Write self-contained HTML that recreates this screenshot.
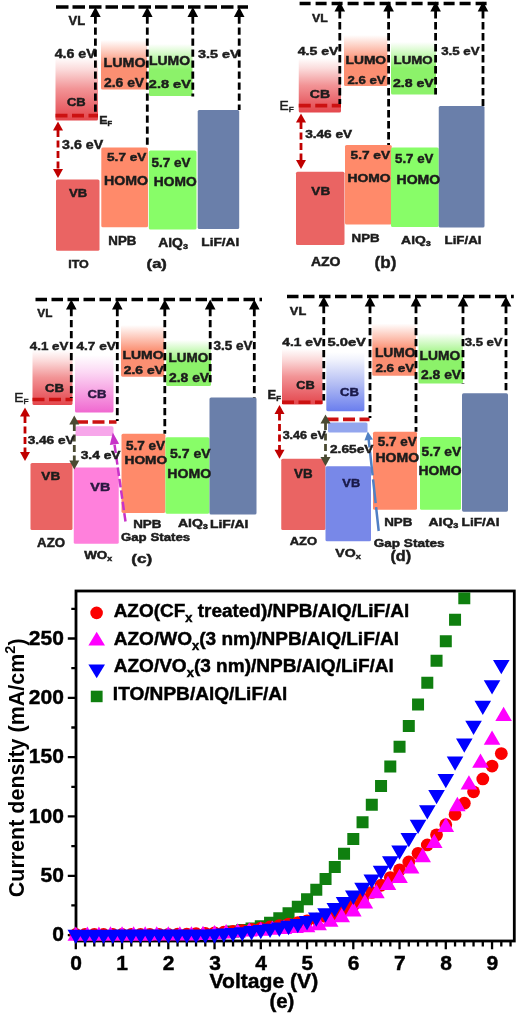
<!DOCTYPE html>
<html><head><meta charset="utf-8"><title>Energy band diagrams and J-V characteristics</title>
<style>
html,body{margin:0;padding:0;background:#fff;}
body{width:520px;height:1015px;overflow:hidden;}
svg{display:block;font-family:"Liberation Sans",Arial,Helvetica,sans-serif;}
</style></head><body>
<svg width="520" height="1015" viewBox="0 0 520 1015">
<rect width="520" height="1015" fill="#fff"/>
<defs></defs>
<linearGradient id="g1" x1="0" y1="0" x2="0" y2="1"><stop offset="0.000" stop-color="#ffffff"/><stop offset="0.200" stop-color="#fbdada"/><stop offset="0.500" stop-color="#f29496"/><stop offset="0.800" stop-color="#e9646a"/><stop offset="1.000" stop-color="#e4474c"/></linearGradient>
<rect x="55.50" y="57.00" width="42.50" height="63.50" fill="url(#g1)" rx="1.6"/>
<rect x="56.00" y="179.50" width="43.50" height="71.30" fill="#ea6463" rx="1.6"/>
<linearGradient id="g2" x1="0" y1="0" x2="0" y2="1"><stop offset="0.000" stop-color="#ffffff"/><stop offset="0.500" stop-color="#fb8f72"/><stop offset="1.000" stop-color="#fb8f72"/></linearGradient>
<rect x="101.00" y="40.00" width="46.00" height="49.50" fill="url(#g2)" rx="1.6"/>
<rect x="101.30" y="147.50" width="46.70" height="79.80" fill="#ff8a6a" rx="1.6"/>
<linearGradient id="g3" x1="0" y1="0" x2="0" y2="1"><stop offset="0.000" stop-color="#ffffff"/><stop offset="0.500" stop-color="#8cf26a"/><stop offset="1.000" stop-color="#8cf26a"/></linearGradient>
<rect x="149.00" y="44.00" width="43.50" height="52.00" fill="url(#g3)" rx="1.6"/>
<rect x="148.80" y="150.50" width="47.70" height="79.10" fill="#88fd68" rx="1.6"/>
<rect x="197.70" y="110.00" width="41.50" height="119.00" fill="#6a7faa" rx="1.6"/>
<line x1="56.00" y1="7.00" x2="248.00" y2="7.00" stroke="#000" stroke-width="3.60" stroke-dasharray="12.50 4.00"/>
<line x1="55.50" y1="115.60" x2="98.00" y2="115.60" stroke="#cc1111" stroke-width="3.60" stroke-dasharray="12.00 4.50"/>
<line x1="95.40" y1="16.50" x2="95.40" y2="113.50" stroke="#000" stroke-width="2.80" stroke-dasharray="7.30 3.70"/>
<polygon points="95.40,7.00 90.10,17.00 100.70,17.00" fill="#000"/>
<line x1="147.30" y1="16.50" x2="147.30" y2="147.50" stroke="#000" stroke-width="2.80" stroke-dasharray="7.30 3.70"/>
<polygon points="147.30,7.00 142.00,17.00 152.60,17.00" fill="#000"/>
<line x1="192.80" y1="16.50" x2="192.80" y2="96.50" stroke="#000" stroke-width="2.80" stroke-dasharray="7.30 3.70"/>
<polygon points="192.80,7.00 187.50,17.00 198.10,17.00" fill="#000"/>
<line x1="239.20" y1="16.50" x2="239.20" y2="110.00" stroke="#000" stroke-width="2.80" stroke-dasharray="7.30 3.70"/>
<polygon points="239.20,7.00 233.90,17.00 244.50,17.00" fill="#000"/>
<line x1="58.00" y1="130.00" x2="58.00" y2="169.50" stroke="#c00000" stroke-width="2.80" stroke-dasharray="7.00 3.50"/>
<polygon points="58.00,121.50 53.00,130.50 63.00,130.50" fill="#c00000"/>
<polygon points="58.00,178.00 53.00,169.00 63.00,169.00" fill="#c00000"/>
<text transform="translate(68.56 25.35) scale(1.003 1)" font-size="12.94" font-weight="bold" fill="#1c1c1c" stroke="#1c1c1c" stroke-width="0.45">VL</text>
<text transform="translate(54.64 58.03) scale(1.154 1)" font-size="12.29" font-weight="bold" fill="#1c1c1c" stroke="#1c1c1c" stroke-width="0.45">4.6 eV</text>
<text transform="translate(66.92 105.65) scale(1.257 1)" font-size="10.31" font-weight="bold" fill="#1c1c1c" stroke="#1c1c1c" stroke-width="0.45">CB</text>
<text transform="translate(99.21 124.38) scale(1.057 1)" font-size="11.81" font-weight="bold" fill="#1c1c1c" stroke="#1c1c1c" stroke-width="0.45">E<tspan font-size="7.09" dy="1.77">F</tspan></text>
<text transform="translate(62.12 148.61) scale(1.171 1)" font-size="12.12" font-weight="bold" fill="#1c1c1c" stroke="#1c1c1c" stroke-width="0.45">3.6 eV</text>
<text transform="translate(68.96 196.55) scale(1.112 1)" font-size="11.77" font-weight="bold" fill="#1c1c1c" stroke="#1c1c1c" stroke-width="0.45">VB</text>
<text transform="translate(68.21 268.44) scale(1.094 1)" font-size="11.44" font-weight="bold" fill="#1c1c1c" stroke="#1c1c1c" stroke-width="0.45">ITO</text>
<text transform="translate(103.49 66.73) scale(1.139 1)" font-size="12.57" font-weight="bold" fill="#1c1c1c" stroke="#1c1c1c" stroke-width="0.45">LUMO</text>
<text transform="translate(103.97 87.22) scale(1.081 1)" font-size="12.85" font-weight="bold" fill="#1c1c1c" stroke="#1c1c1c" stroke-width="0.45">2.6 eV</text>
<text transform="translate(107.03 160.94) scale(1.160 1)" font-size="11.75" font-weight="bold" fill="#1c1c1c" stroke="#1c1c1c" stroke-width="0.45">5.7 eV</text>
<text transform="translate(104.00 184.63) scale(1.166 1)" font-size="12.15" font-weight="bold" fill="#1c1c1c" stroke="#1c1c1c" stroke-width="0.45">HOMO</text>
<text transform="translate(108.36 245.25) scale(1.116 1)" font-size="11.92" font-weight="bold" fill="#1c1c1c" stroke="#1c1c1c" stroke-width="0.45">NPB</text>
<text transform="translate(149.02 64.93) scale(1.150 1)" font-size="12.15" font-weight="bold" fill="#1c1c1c" stroke="#1c1c1c" stroke-width="0.45">LUMO</text>
<text transform="translate(148.85 88.18) scale(1.232 1)" font-size="11.79" font-weight="bold" fill="#1c1c1c" stroke="#1c1c1c" stroke-width="0.45">2.8 eV</text>
<text transform="translate(151.54 166.73) scale(1.118 1)" font-size="12.04" font-weight="bold" fill="#1c1c1c" stroke="#1c1c1c" stroke-width="0.45">5.7 eV</text>
<text transform="translate(153.83 186.43) scale(1.160 1)" font-size="11.86" font-weight="bold" fill="#1c1c1c" stroke="#1c1c1c" stroke-width="0.45">HOMO</text>
<text transform="translate(158.20 246.84) scale(1.148 1)" font-size="12.13" font-weight="bold" fill="#1c1c1c" stroke="#1c1c1c" stroke-width="0.45">AlQ<tspan font-size="7.88" dy="2.43">3</tspan></text>
<text transform="translate(198.12 58.42) scale(1.258 1)" font-size="11.42" font-weight="bold" fill="#1c1c1c" stroke="#1c1c1c" stroke-width="0.45">3.5 eV</text>
<text transform="translate(201.34 246.32) scale(1.212 1)" font-size="11.28" font-weight="bold" fill="#1c1c1c" stroke="#1c1c1c" stroke-width="0.45">LiF/Al</text>
<text transform="translate(146.62 267.86) scale(1.276 1)" font-size="12.98" font-weight="bold" fill="#1c1c1c" stroke="#1c1c1c" stroke-width="0.45">(a)</text>
<linearGradient id="g4" x1="0" y1="0" x2="0" y2="1"><stop offset="0.000" stop-color="#ffffff"/><stop offset="0.200" stop-color="#fbdada"/><stop offset="0.500" stop-color="#f29496"/><stop offset="0.800" stop-color="#e9646a"/><stop offset="1.000" stop-color="#e4474c"/></linearGradient>
<rect x="298.75" y="58.00" width="42.25" height="54.50" fill="url(#g4)" rx="1.6"/>
<rect x="296.00" y="171.75" width="48.50" height="73.25" fill="#ea6463" rx="1.6"/>
<linearGradient id="g5" x1="0" y1="0" x2="0" y2="1"><stop offset="0.000" stop-color="#ffffff"/><stop offset="0.500" stop-color="#fb8f72"/><stop offset="1.000" stop-color="#fb8f72"/></linearGradient>
<rect x="344.00" y="35.00" width="43.50" height="51.00" fill="url(#g5)" rx="1.6"/>
<rect x="345.00" y="145.00" width="46.75" height="79.50" fill="#ff8a6a" rx="1.6"/>
<linearGradient id="g6" x1="0" y1="0" x2="0" y2="1"><stop offset="0.000" stop-color="#ffffff"/><stop offset="0.500" stop-color="#8cf26a"/><stop offset="1.000" stop-color="#8cf26a"/></linearGradient>
<rect x="391.00" y="42.00" width="45.00" height="52.50" fill="url(#g6)" rx="1.6"/>
<rect x="391.00" y="147.50" width="47.75" height="79.50" fill="#88fd68" rx="1.6"/>
<rect x="438.75" y="106.00" width="45.75" height="121.50" fill="#6a7faa" rx="1.6"/>
<line x1="299.60" y1="3.50" x2="489.50" y2="3.50" stroke="#000" stroke-width="3.60" stroke-dasharray="11.00 5.00"/>
<line x1="298.75" y1="105.60" x2="341.00" y2="105.60" stroke="#cc1111" stroke-width="3.60" stroke-dasharray="12.00 4.50"/>
<line x1="339.80" y1="11.10" x2="339.80" y2="104.00" stroke="#000" stroke-width="2.80" stroke-dasharray="7.30 3.70"/>
<polygon points="339.80,1.60 334.50,11.60 345.10,11.60" fill="#000"/>
<line x1="388.60" y1="11.10" x2="388.60" y2="145.00" stroke="#000" stroke-width="2.80" stroke-dasharray="7.30 3.70"/>
<polygon points="388.60,1.60 383.30,11.60 393.90,11.60" fill="#000"/>
<line x1="435.60" y1="11.10" x2="435.60" y2="94.50" stroke="#000" stroke-width="2.80" stroke-dasharray="7.30 3.70"/>
<polygon points="435.60,1.60 430.30,11.60 440.90,11.60" fill="#000"/>
<line x1="483.00" y1="11.10" x2="483.00" y2="106.00" stroke="#000" stroke-width="2.80" stroke-dasharray="7.30 3.70"/>
<polygon points="483.00,1.60 477.70,11.60 488.30,11.60" fill="#000"/>
<line x1="301.00" y1="122.00" x2="301.00" y2="160.50" stroke="#c00000" stroke-width="2.80" stroke-dasharray="7.00 3.50"/>
<polygon points="301.00,113.50 296.00,122.50 306.00,122.50" fill="#c00000"/>
<polygon points="301.00,169.00 296.00,160.00 306.00,160.00" fill="#c00000"/>
<text transform="translate(312.07 22.05) scale(1.132 1)" font-size="10.90" font-weight="bold" fill="#1c1c1c" stroke="#1c1c1c" stroke-width="0.45">VL</text>
<text transform="translate(297.74 55.44) scale(1.291 1)" font-size="10.89" font-weight="bold" fill="#1c1c1c" stroke="#1c1c1c" stroke-width="0.45">4.5 eV</text>
<text transform="translate(309.87 98.19) scale(1.269 1)" font-size="11.09" font-weight="bold" fill="#1c1c1c" stroke="#1c1c1c" stroke-width="0.45">CB</text>
<text transform="translate(279.62 109.73) scale(1.081 1)" font-size="12.77" font-weight="normal" fill="#1c1c1c" stroke="#1c1c1c" stroke-width="0.45">E<tspan font-size="7.66" dy="1.92">F</tspan></text>
<text transform="translate(305.14 138.18) scale(1.232 1)" font-size="11.06" font-weight="bold" fill="#1c1c1c" stroke="#1c1c1c" stroke-width="0.45">3.46 eV</text>
<text transform="translate(311.36 194.55) scale(1.150 1)" font-size="11.77" font-weight="bold" fill="#1c1c1c" stroke="#1c1c1c" stroke-width="0.45">VB</text>
<text transform="translate(310.90 265.93) scale(1.156 1)" font-size="12.15" font-weight="bold" fill="#1c1c1c" stroke="#1c1c1c" stroke-width="0.45">AZO</text>
<text transform="translate(345.53 63.95) scale(1.285 1)" font-size="10.73" font-weight="bold" fill="#1c1c1c" stroke="#1c1c1c" stroke-width="0.45">LUMO</text>
<text transform="translate(347.49 84.44) scale(1.153 1)" font-size="11.44" font-weight="bold" fill="#1c1c1c" stroke="#1c1c1c" stroke-width="0.45">2.6 eV</text>
<text transform="translate(350.53 159.44) scale(1.180 1)" font-size="11.61" font-weight="bold" fill="#1c1c1c" stroke="#1c1c1c" stroke-width="0.45">5.7 eV</text>
<text transform="translate(347.52 181.94) scale(1.250 1)" font-size="11.09" font-weight="bold" fill="#1c1c1c" stroke="#1c1c1c" stroke-width="0.45">HOMO</text>
<text transform="translate(351.56 242.05) scale(1.166 1)" font-size="11.41" font-weight="bold" fill="#1c1c1c" stroke="#1c1c1c" stroke-width="0.45">NPB</text>
<text transform="translate(393.56 63.95) scale(1.236 1)" font-size="10.73" font-weight="bold" fill="#1c1c1c" stroke="#1c1c1c" stroke-width="0.45">LUMO</text>
<text transform="translate(392.96 86.95) scale(1.311 1)" font-size="10.73" font-weight="bold" fill="#1c1c1c" stroke="#1c1c1c" stroke-width="0.45">2.8 eV</text>
<text transform="translate(395.04 163.43) scale(1.076 1)" font-size="12.33" font-weight="bold" fill="#1c1c1c" stroke="#1c1c1c" stroke-width="0.45">5.7 eV</text>
<text transform="translate(396.51 183.93) scale(1.155 1)" font-size="12.15" font-weight="bold" fill="#1c1c1c" stroke="#1c1c1c" stroke-width="0.45">HOMO</text>
<text transform="translate(401.10 244.30) scale(1.284 1)" font-size="10.84" font-weight="bold" fill="#1c1c1c" stroke="#1c1c1c" stroke-width="0.45">AlQ<tspan font-size="7.04" dy="2.17">3</tspan></text>
<text transform="translate(441.14 55.43) scale(1.243 1)" font-size="10.71" font-weight="bold" fill="#1c1c1c" stroke="#1c1c1c" stroke-width="0.45">3.5 eV</text>
<text transform="translate(444.56 244.33) scale(1.222 1)" font-size="10.88" font-weight="bold" fill="#1c1c1c" stroke="#1c1c1c" stroke-width="0.45">LiF/Al</text>
<text transform="translate(374.60 268.05) scale(1.014 1)" font-size="16.84" font-weight="bold" fill="#1c1c1c" stroke="#1c1c1c" stroke-width="0.45">(b)</text>
<linearGradient id="g7" x1="0" y1="0" x2="0" y2="1"><stop offset="0.000" stop-color="#ffffff"/><stop offset="0.200" stop-color="#fbdada"/><stop offset="0.500" stop-color="#f29496"/><stop offset="0.800" stop-color="#e9646a"/><stop offset="1.000" stop-color="#e4474c"/></linearGradient>
<rect x="32.50" y="350.00" width="40.00" height="55.00" fill="url(#g7)" rx="1.6"/>
<rect x="30.50" y="463.00" width="42.00" height="67.00" fill="#ea6463" rx="1.6"/>
<linearGradient id="g8" x1="0" y1="0" x2="0" y2="1"><stop offset="0.000" stop-color="#ffffff"/><stop offset="0.300" stop-color="#fcd8f4"/><stop offset="1.000" stop-color="#f068d0"/></linearGradient>
<rect x="75.00" y="355.00" width="38.50" height="57.50" fill="url(#g8)" rx="1.6"/>
<rect x="75.50" y="426.30" width="38.00" height="9.70" fill="#f7a6ea" rx="1.6"/>
<rect x="73.75" y="467.50" width="45.00" height="76.25" fill="#ff80dc" rx="1.6"/>
<linearGradient id="g9" x1="0" y1="0" x2="0" y2="1"><stop offset="0.000" stop-color="#ffffff"/><stop offset="0.500" stop-color="#fb8f72"/><stop offset="1.000" stop-color="#fb8f72"/></linearGradient>
<rect x="121.00" y="325.00" width="43.20" height="51.70" fill="url(#g9)" rx="1.6"/>
<rect x="121.50" y="433.80" width="43.90" height="79.10" fill="#ff8a6a" rx="1.6"/>
<linearGradient id="g10" x1="0" y1="0" x2="0" y2="1"><stop offset="0.000" stop-color="#ffffff"/><stop offset="0.500" stop-color="#8cf26a"/><stop offset="1.000" stop-color="#8cf26a"/></linearGradient>
<rect x="166.20" y="340.00" width="44.80" height="46.00" fill="url(#g10)" rx="1.6"/>
<rect x="165.40" y="437.30" width="44.10" height="76.40" fill="#88fd68" rx="1.6"/>
<rect x="209.50" y="397.50" width="47.00" height="117.10" fill="#6a7faa" rx="1.6"/>
<line x1="35.50" y1="299.50" x2="262.00" y2="299.50" stroke="#000" stroke-width="3.60" stroke-dasharray="11.50 4.50"/>
<line x1="32.50" y1="399.50" x2="72.50" y2="399.50" stroke="#cc1111" stroke-width="3.60" stroke-dasharray="12.00 4.50"/>
<line x1="76.00" y1="422.00" x2="116.50" y2="422.00" stroke="#cc1111" stroke-width="3.60" stroke-dasharray="12.00 4.50"/>
<line x1="71.30" y1="309.00" x2="71.30" y2="398.00" stroke="#000" stroke-width="2.80" stroke-dasharray="7.30 3.70"/>
<polygon points="71.30,299.50 66.00,309.50 76.60,309.50" fill="#000"/>
<line x1="117.30" y1="309.00" x2="117.30" y2="421.00" stroke="#000" stroke-width="2.80" stroke-dasharray="7.30 3.70"/>
<polygon points="117.30,299.50 112.00,309.50 122.60,309.50" fill="#000"/>
<line x1="164.80" y1="309.00" x2="164.80" y2="433.80" stroke="#000" stroke-width="2.80" stroke-dasharray="7.30 3.70"/>
<polygon points="164.80,299.50 159.50,309.50 170.10,309.50" fill="#000"/>
<line x1="210.20" y1="309.00" x2="210.20" y2="386.00" stroke="#000" stroke-width="2.80" stroke-dasharray="7.30 3.70"/>
<polygon points="210.20,299.50 204.90,309.50 215.50,309.50" fill="#000"/>
<line x1="254.30" y1="309.00" x2="254.30" y2="397.50" stroke="#000" stroke-width="2.80" stroke-dasharray="7.30 3.70"/>
<polygon points="254.30,299.50 249.00,309.50 259.60,309.50" fill="#000"/>
<line x1="25.00" y1="416.00" x2="25.00" y2="452.50" stroke="#c00000" stroke-width="2.80" stroke-dasharray="7.00 3.50"/>
<polygon points="25.00,407.50 20.00,416.50 30.00,416.50" fill="#c00000"/>
<polygon points="25.00,461.00 20.00,452.00 30.00,452.00" fill="#c00000"/>
<line x1="74.30" y1="424.00" x2="74.30" y2="461.00" stroke="#4a4a32" stroke-width="2.80" stroke-dasharray="7.00 3.50"/>
<polygon points="74.30,415.50 69.30,424.50 79.30,424.50" fill="#4a4a32"/>
<polygon points="74.30,469.50 69.30,460.50 79.30,460.50" fill="#4a4a32"/>
<line x1="125.50" y1="521.50" x2="114.42" y2="443.88" stroke="#c832c8" stroke-width="2.50" stroke-dasharray="8.50 3.00"/>
<polygon points="112.80,432.50 109.84,445.04 119.15,443.72" fill="#c832c8"/>
<text transform="translate(37.37 317.05) scale(1.032 1)" font-size="11.41" font-weight="bold" fill="#1c1c1c" stroke="#1c1c1c" stroke-width="0.45">VL</text>
<text transform="translate(29.75 349.94) scale(1.227 1)" font-size="10.89" font-weight="bold" fill="#1c1c1c" stroke="#1c1c1c" stroke-width="0.45">4.1 eV</text>
<text transform="translate(76.49 349.94) scale(1.251 1)" font-size="10.89" font-weight="bold" fill="#1c1c1c" stroke="#1c1c1c" stroke-width="0.45">4.7 eV</text>
<text transform="translate(44.91 391.94) scale(1.186 1)" font-size="11.09" font-weight="bold" fill="#1c1c1c" stroke="#1c1c1c" stroke-width="0.45">CB</text>
<text transform="translate(87.41 398.19) scale(1.186 1)" font-size="11.09" font-weight="bold" fill="#2a1840" stroke="#2a1840" stroke-width="0.45">CB</text>
<text transform="translate(14.31 401.92) scale(1.075 1)" font-size="12.89" font-weight="normal" fill="#1c1c1c" stroke="#1c1c1c" stroke-width="0.45">E<tspan font-size="7.73" dy="1.93">F</tspan></text>
<text transform="translate(27.64 444.42) scale(1.194 1)" font-size="11.42" font-weight="bold" fill="#1c1c1c" stroke="#1c1c1c" stroke-width="0.45">3.46 eV</text>
<text transform="translate(80.63 458.93) scale(1.292 1)" font-size="10.71" font-weight="bold" fill="#1c1c1c" stroke="#1c1c1c" stroke-width="0.45">3.4 eV</text>
<text transform="translate(41.36 479.55) scale(1.150 1)" font-size="11.77" font-weight="bold" fill="#1c1c1c" stroke="#1c1c1c" stroke-width="0.45">VB</text>
<text transform="translate(90.35 490.55) scale(1.293 1)" font-size="11.05" font-weight="bold" fill="#2a1840" stroke="#2a1840" stroke-width="0.45">VB</text>
<text transform="translate(37.12 546.93) scale(1.092 1)" font-size="12.15" font-weight="bold" fill="#1c1c1c" stroke="#1c1c1c" stroke-width="0.45">AZO</text>
<text transform="translate(84.19 558.52) scale(1.323 1)" font-size="10.13" font-weight="bold" fill="#1c1c1c" stroke="#1c1c1c" stroke-width="0.45">WO<tspan font-size="6.59" dy="2.03">x</tspan></text>
<text transform="translate(122.52 358.84) scale(1.281 1)" font-size="10.88" font-weight="bold" fill="#1c1c1c" stroke="#1c1c1c" stroke-width="0.45">LUMO</text>
<text transform="translate(123.77 373.84) scale(1.275 1)" font-size="10.88" font-weight="bold" fill="#1c1c1c" stroke="#1c1c1c" stroke-width="0.45">2.6 eV</text>
<text transform="translate(125.93 449.73) scale(1.098 1)" font-size="12.33" font-weight="bold" fill="#1c1c1c" stroke="#1c1c1c" stroke-width="0.45">5.7 eV</text>
<text transform="translate(124.53 464.14) scale(1.243 1)" font-size="11.02" font-weight="bold" fill="#1c1c1c" stroke="#1c1c1c" stroke-width="0.45">HOMO</text>
<text transform="translate(133.15 527.75) scale(1.183 1)" font-size="11.34" font-weight="bold" fill="#1c1c1c" stroke="#1c1c1c" stroke-width="0.45">NPB</text>
<text transform="translate(120.91 540.74) scale(1.191 1)" font-size="11.15" font-weight="bold" fill="#1c1c1c" stroke="#1c1c1c" stroke-width="0.45">Gap States</text>
<text transform="translate(168.55 361.73) scale(1.106 1)" font-size="12.15" font-weight="bold" fill="#1c1c1c" stroke="#1c1c1c" stroke-width="0.45">LUMO</text>
<text transform="translate(168.97 381.93) scale(1.144 1)" font-size="12.15" font-weight="bold" fill="#1c1c1c" stroke="#1c1c1c" stroke-width="0.45">2.8 eV</text>
<text transform="translate(170.02 458.42) scale(1.054 1)" font-size="13.33" font-weight="bold" fill="#1c1c1c" stroke="#1c1c1c" stroke-width="0.45">5.7 eV</text>
<text transform="translate(167.21 478.42) scale(1.099 1)" font-size="12.85" font-weight="bold" fill="#1c1c1c" stroke="#1c1c1c" stroke-width="0.45">HOMO</text>
<text transform="translate(177.90 527.41) scale(1.360 1)" font-size="10.30" font-weight="bold" fill="#1c1c1c" stroke="#1c1c1c" stroke-width="0.45">AlQ<tspan font-size="6.70" dy="2.06">3</tspan></text>
<text transform="translate(213.44 350.21) scale(1.100 1)" font-size="12.26" font-weight="bold" fill="#1c1c1c" stroke="#1c1c1c" stroke-width="0.45">3.5 eV</text>
<text transform="translate(209.92 527.54) scale(1.324 1)" font-size="10.48" font-weight="bold" fill="#1c1c1c" stroke="#1c1c1c" stroke-width="0.45">LiF/Al</text>
<text transform="translate(131.19 563.47) scale(1.382 1)" font-size="12.44" font-weight="bold" fill="#1c1c1c" stroke="#1c1c1c" stroke-width="0.45">(c)</text>
<linearGradient id="g11" x1="0" y1="0" x2="0" y2="1"><stop offset="0.000" stop-color="#ffffff"/><stop offset="0.200" stop-color="#fbdada"/><stop offset="0.500" stop-color="#f29496"/><stop offset="0.800" stop-color="#e9646a"/><stop offset="1.000" stop-color="#e4474c"/></linearGradient>
<rect x="282.00" y="348.50" width="40.50" height="56.00" fill="url(#g11)" rx="1.6"/>
<rect x="281.25" y="458.75" width="44.25" height="71.25" fill="#ea6463" rx="1.6"/>
<linearGradient id="g12" x1="0" y1="0" x2="0" y2="1"><stop offset="0.000" stop-color="#ffffff"/><stop offset="0.120" stop-color="#f2f4fd"/><stop offset="0.550" stop-color="#b2bcf3"/><stop offset="1.000" stop-color="#6a7eee"/></linearGradient>
<rect x="326.30" y="352.00" width="38.10" height="59.20" fill="url(#g12)" rx="1.6"/>
<rect x="328.00" y="422.50" width="39.50" height="10.00" fill="#93a6ee" rx="1.6"/>
<rect x="325.50" y="466.25" width="45.50" height="75.00" fill="#7888e8" rx="1.6"/>
<linearGradient id="g13" x1="0" y1="0" x2="0" y2="1"><stop offset="0.000" stop-color="#ffffff"/><stop offset="0.500" stop-color="#fb8f72"/><stop offset="1.000" stop-color="#fb8f72"/></linearGradient>
<rect x="372.30" y="323.50" width="43.70" height="52.30" fill="url(#g13)" rx="1.6"/>
<rect x="373.00" y="431.70" width="44.00" height="78.10" fill="#ff8a6a" rx="1.6"/>
<linearGradient id="g14" x1="0" y1="0" x2="0" y2="1"><stop offset="0.000" stop-color="#ffffff"/><stop offset="0.500" stop-color="#8cf26a"/><stop offset="1.000" stop-color="#8cf26a"/></linearGradient>
<rect x="418.50" y="333.00" width="44.50" height="50.50" fill="url(#g14)" rx="1.6"/>
<rect x="420.00" y="437.00" width="41.00" height="72.80" fill="#88fd68" rx="1.6"/>
<rect x="462.00" y="393.30" width="46.00" height="118.40" fill="#6a7faa" rx="1.6"/>
<line x1="287.00" y1="296.50" x2="513.80" y2="296.50" stroke="#000" stroke-width="3.60" stroke-dasharray="11.50 4.50"/>
<line x1="282.00" y1="402.20" x2="322.50" y2="402.20" stroke="#cc1111" stroke-width="3.60" stroke-dasharray="12.00 4.50"/>
<line x1="326.50" y1="419.40" x2="369.50" y2="419.40" stroke="#cc1111" stroke-width="3.60" stroke-dasharray="12.00 4.50"/>
<line x1="323.75" y1="306.00" x2="323.75" y2="400.50" stroke="#000" stroke-width="2.80" stroke-dasharray="7.30 3.70"/>
<polygon points="323.75,296.50 318.45,306.50 329.05,306.50" fill="#000"/>
<line x1="370.00" y1="306.00" x2="370.00" y2="418.00" stroke="#000" stroke-width="2.80" stroke-dasharray="7.30 3.70"/>
<polygon points="370.00,296.50 364.70,306.50 375.30,306.50" fill="#000"/>
<line x1="416.00" y1="306.00" x2="416.00" y2="431.70" stroke="#000" stroke-width="2.80" stroke-dasharray="7.30 3.70"/>
<polygon points="416.00,296.50 410.70,306.50 421.30,306.50" fill="#000"/>
<line x1="463.00" y1="306.00" x2="463.00" y2="383.50" stroke="#000" stroke-width="2.80" stroke-dasharray="7.30 3.70"/>
<polygon points="463.00,296.50 457.70,306.50 468.30,306.50" fill="#000"/>
<line x1="506.00" y1="306.00" x2="506.00" y2="393.30" stroke="#000" stroke-width="2.80" stroke-dasharray="7.30 3.70"/>
<polygon points="506.00,296.50 500.70,306.50 511.30,306.50" fill="#000"/>
<line x1="279.50" y1="413.50" x2="279.50" y2="450.25" stroke="#c00000" stroke-width="2.80" stroke-dasharray="7.00 3.50"/>
<polygon points="279.50,405.00 274.50,414.00 284.50,414.00" fill="#c00000"/>
<polygon points="279.50,458.75 274.50,449.75 284.50,449.75" fill="#c00000"/>
<line x1="325.50" y1="423.00" x2="325.50" y2="457.50" stroke="#4a4a32" stroke-width="2.80" stroke-dasharray="7.00 3.50"/>
<polygon points="325.50,414.50 320.50,423.50 330.50,423.50" fill="#4a4a32"/>
<polygon points="325.50,466.00 320.50,457.00 330.50,457.00" fill="#4a4a32"/>
<line x1="378.70" y1="531.00" x2="368.67" y2="439.45" stroke="#5080c4" stroke-width="2.50" stroke-dasharray="24.00 4.00"/>
<polygon points="367.80,431.50 364.45,440.42 373.00,439.48" fill="#5080c4"/>
<text transform="translate(289.86 314.55) scale(1.120 1)" font-size="11.41" font-weight="bold" fill="#1c1c1c" stroke="#1c1c1c" stroke-width="0.45">VL</text>
<text transform="translate(282.24 346.45) scale(1.310 1)" font-size="10.53" font-weight="bold" fill="#1c1c1c" stroke="#1c1c1c" stroke-width="0.45">4.1 eV</text>
<text transform="translate(327.50 346.45) scale(1.416 1)" font-size="10.38" font-weight="bold" fill="#1c1c1c" stroke="#1c1c1c" stroke-width="0.45">5.0eV</text>
<text transform="translate(296.18 388.95) scale(1.231 1)" font-size="10.38" font-weight="bold" fill="#1c1c1c" stroke="#1c1c1c" stroke-width="0.45">CB</text>
<text transform="translate(339.91 395.94) scale(1.149 1)" font-size="11.44" font-weight="bold" fill="#1a1a4a" stroke="#1a1a4a" stroke-width="0.45">CB</text>
<text transform="translate(267.58 399.20) scale(1.001 1)" font-size="13.01" font-weight="bold" fill="#1c1c1c" stroke="#1c1c1c" stroke-width="0.45">E<tspan font-size="7.80" dy="1.95">F</tspan></text>
<text transform="translate(282.66 439.43) scale(1.133 1)" font-size="11.06" font-weight="bold" fill="#1c1c1c" stroke="#1c1c1c" stroke-width="0.45">3.46 eV</text>
<text transform="translate(329.98 453.19) scale(1.236 1)" font-size="11.09" font-weight="bold" fill="#1c1c1c" stroke="#1c1c1c" stroke-width="0.45">2.65eV</text>
<text transform="translate(294.11 477.55) scale(1.100 1)" font-size="12.14" font-weight="bold" fill="#1c1c1c" stroke="#1c1c1c" stroke-width="0.45">VB</text>
<text transform="translate(342.36 487.05) scale(1.121 1)" font-size="11.41" font-weight="bold" fill="#1a1a4a" stroke="#1a1a4a" stroke-width="0.45">VB</text>
<text transform="translate(289.63 545.44) scale(1.138 1)" font-size="11.44" font-weight="bold" fill="#1c1c1c" stroke="#1c1c1c" stroke-width="0.45">AZO</text>
<text transform="translate(335.35 556.69) scale(1.197 1)" font-size="11.80" font-weight="bold" fill="#1c1c1c" stroke="#1c1c1c" stroke-width="0.45">VO<tspan font-size="7.67" dy="2.36">x</tspan></text>
<text transform="translate(374.93 356.73) scale(1.162 1)" font-size="11.86" font-weight="bold" fill="#1c1c1c" stroke="#1c1c1c" stroke-width="0.45">LUMO</text>
<text transform="translate(375.38 372.14) scale(1.152 1)" font-size="11.72" font-weight="bold" fill="#1c1c1c" stroke="#1c1c1c" stroke-width="0.45">2.6 eV</text>
<text transform="translate(377.84 446.43) scale(1.128 1)" font-size="11.90" font-weight="bold" fill="#1c1c1c" stroke="#1c1c1c" stroke-width="0.45">5.7 eV</text>
<text transform="translate(375.51 461.93) scale(1.182 1)" font-size="11.86" font-weight="bold" fill="#1c1c1c" stroke="#1c1c1c" stroke-width="0.45">HOMO</text>
<text transform="translate(384.15 525.55) scale(1.139 1)" font-size="11.77" font-weight="bold" fill="#1c1c1c" stroke="#1c1c1c" stroke-width="0.45">NPB</text>
<text transform="translate(373.69 546.50) scale(1.256 1)" font-size="10.82" font-weight="bold" fill="#1c1c1c" stroke="#1c1c1c" stroke-width="0.45">Gap States</text>
<text transform="translate(419.53 359.82) scale(1.050 1)" font-size="13.14" font-weight="bold" fill="#1c1c1c" stroke="#1c1c1c" stroke-width="0.45">LUMO</text>
<text transform="translate(420.97 379.22) scale(1.058 1)" font-size="13.14" font-weight="bold" fill="#1c1c1c" stroke="#1c1c1c" stroke-width="0.45">2.8 eV</text>
<text transform="translate(421.53 455.73) scale(1.138 1)" font-size="12.04" font-weight="bold" fill="#1c1c1c" stroke="#1c1c1c" stroke-width="0.45">5.7 eV</text>
<text transform="translate(418.52 474.83) scale(1.154 1)" font-size="12.01" font-weight="bold" fill="#1c1c1c" stroke="#1c1c1c" stroke-width="0.45">HOMO</text>
<text transform="translate(428.40 526.30) scale(1.293 1)" font-size="10.84" font-weight="bold" fill="#1c1c1c" stroke="#1c1c1c" stroke-width="0.45">AlQ<tspan font-size="7.04" dy="2.17">3</tspan></text>
<text transform="translate(464.75 345.92) scale(1.120 1)" font-size="11.70" font-weight="bold" fill="#1c1c1c" stroke="#1c1c1c" stroke-width="0.45">3.5 eV</text>
<text transform="translate(461.54 526.33) scale(1.257 1)" font-size="10.88" font-weight="bold" fill="#1c1c1c" stroke="#1c1c1c" stroke-width="0.45">LiF/Al</text>
<text transform="translate(390.44 561.28) scale(1.172 1)" font-size="13.84" font-weight="bold" fill="#1c1c1c" stroke="#1c1c1c" stroke-width="0.45">(d)</text>
<rect x="76.00" y="591.00" width="438.30" height="350.00" fill="none" stroke="#000" stroke-width="2.80"/>
<path d="M67.80 935.10H76.00M71.30 905.44H76.00M67.80 875.78H76.00M71.30 846.12H76.00M67.80 816.46H76.00M71.30 786.80H76.00M67.80 757.14H76.00M71.30 727.48H76.00M67.80 697.82H76.00M71.30 668.16H76.00M67.80 638.50H76.00M71.30 608.84H76.00M75.80 941.00V949.30M85.05 941.00V946.60M94.30 941.00V946.60M103.55 941.00V946.60M112.80 941.00V946.60M122.05 941.00V949.30M131.30 941.00V946.60M140.55 941.00V946.60M149.80 941.00V946.60M159.05 941.00V946.60M168.30 941.00V949.30M177.55 941.00V946.60M186.80 941.00V946.60M196.05 941.00V946.60M205.30 941.00V946.60M214.55 941.00V949.30M223.80 941.00V946.60M233.05 941.00V946.60M242.30 941.00V946.60M251.55 941.00V946.60M260.80 941.00V949.30M270.05 941.00V946.60M279.30 941.00V946.60M288.55 941.00V946.60M297.80 941.00V946.60M307.05 941.00V949.30M316.30 941.00V946.60M325.55 941.00V946.60M334.80 941.00V946.60M344.05 941.00V946.60M353.30 941.00V949.30M362.55 941.00V946.60M371.80 941.00V946.60M381.05 941.00V946.60M390.30 941.00V946.60M399.55 941.00V949.30M408.80 941.00V946.60M418.05 941.00V946.60M427.30 941.00V946.60M436.55 941.00V946.60M445.80 941.00V949.30M455.05 941.00V946.60M464.30 941.00V946.60M473.55 941.00V946.60M482.80 941.00V946.60M492.05 941.00V949.30M501.30 941.00V946.60M510.55 941.00V946.60" stroke="#000" stroke-width="2.3" fill="none"/>
<clipPath id="plotclip"><rect x="0" y="592.3" width="520" height="422.7"/></clipPath>
<g clip-path="url(#plotclip)">
<path d="M227.05 925.54h12.00v12.00h-12.00zM236.30 924.12h12.00v12.00h-12.00zM245.55 922.57h12.00v12.00h-12.00zM254.80 920.20h12.00v12.00h-12.00zM264.05 916.64h12.00v12.00h-12.00zM273.30 912.25h12.00v12.00h-12.00zM282.55 907.15h12.00v12.00h-12.00zM291.80 900.86h12.00v12.00h-12.00zM301.05 893.15h12.00v12.00h-12.00zM310.30 883.66h12.00v12.00h-12.00zM319.55 872.98h12.00v12.00h-12.00zM328.80 861.12h12.00v12.00h-12.00zM338.05 847.71h12.00v12.00h-12.00zM347.30 832.88h12.00v12.00h-12.00zM356.55 816.27h12.00v12.00h-12.00zM365.80 798.83h12.00v12.00h-12.00zM375.05 779.97h12.00v12.00h-12.00zM384.30 760.39h12.00v12.00h-12.00zM393.55 740.70h12.00v12.00h-12.00zM402.80 720.06h12.00v12.00h-12.00zM412.05 698.46h12.00v12.00h-12.00zM421.30 676.87h12.00v12.00h-12.00zM430.55 654.80h12.00v12.00h-12.00zM439.80 635.23h12.00v12.00h-12.00zM449.05 613.75h12.00v12.00h-12.00zM458.30 592.28h12.00v12.00h-12.00z" fill="#0f7f0f"/>
<circle cx="75.80" cy="934.51" r="6.40" fill="#fb0000"/>
<circle cx="85.05" cy="934.49" r="6.40" fill="#fb0000"/>
<circle cx="94.30" cy="934.48" r="6.40" fill="#fb0000"/>
<circle cx="103.55" cy="934.47" r="6.40" fill="#fb0000"/>
<circle cx="112.80" cy="934.46" r="6.40" fill="#fb0000"/>
<circle cx="122.05" cy="934.45" r="6.40" fill="#fb0000"/>
<circle cx="131.30" cy="934.44" r="6.40" fill="#fb0000"/>
<circle cx="140.55" cy="934.42" r="6.40" fill="#fb0000"/>
<circle cx="149.80" cy="934.41" r="6.40" fill="#fb0000"/>
<circle cx="159.05" cy="934.40" r="6.40" fill="#fb0000"/>
<circle cx="168.30" cy="934.39" r="6.40" fill="#fb0000"/>
<circle cx="177.55" cy="934.21" r="6.40" fill="#fb0000"/>
<circle cx="186.80" cy="934.03" r="6.40" fill="#fb0000"/>
<circle cx="196.05" cy="933.74" r="6.40" fill="#fb0000"/>
<circle cx="205.30" cy="933.44" r="6.40" fill="#fb0000"/>
<circle cx="214.55" cy="932.85" r="6.40" fill="#fb0000"/>
<circle cx="223.80" cy="932.25" r="6.40" fill="#fb0000"/>
<circle cx="233.05" cy="931.42" r="6.40" fill="#fb0000"/>
<circle cx="242.30" cy="930.59" r="6.40" fill="#fb0000"/>
<circle cx="251.55" cy="929.41" r="6.40" fill="#fb0000"/>
<circle cx="260.80" cy="928.22" r="6.40" fill="#fb0000"/>
<circle cx="270.05" cy="926.91" r="6.40" fill="#fb0000"/>
<circle cx="279.30" cy="925.61" r="6.40" fill="#fb0000"/>
<circle cx="288.55" cy="924.13" r="6.40" fill="#fb0000"/>
<circle cx="297.80" cy="922.64" r="6.40" fill="#fb0000"/>
<circle cx="307.05" cy="920.86" r="6.40" fill="#fb0000"/>
<circle cx="316.30" cy="919.08" r="6.40" fill="#fb0000"/>
<circle cx="325.55" cy="916.41" r="6.40" fill="#fb0000"/>
<circle cx="334.80" cy="913.74" r="6.40" fill="#fb0000"/>
<circle cx="344.05" cy="909.59" r="6.40" fill="#fb0000"/>
<circle cx="353.30" cy="905.44" r="6.40" fill="#fb0000"/>
<circle cx="362.55" cy="898.91" r="6.40" fill="#fb0000"/>
<circle cx="371.80" cy="892.39" r="6.40" fill="#fb0000"/>
<circle cx="381.05" cy="885.27" r="6.40" fill="#fb0000"/>
<circle cx="390.30" cy="877.56" r="6.40" fill="#fb0000"/>
<circle cx="399.55" cy="869.85" r="6.40" fill="#fb0000"/>
<circle cx="408.80" cy="862.02" r="6.40" fill="#fb0000"/>
<circle cx="418.05" cy="853.36" r="6.40" fill="#fb0000"/>
<circle cx="427.30" cy="844.93" r="6.40" fill="#fb0000"/>
<circle cx="436.55" cy="834.85" r="6.40" fill="#fb0000"/>
<circle cx="445.80" cy="824.76" r="6.40" fill="#fb0000"/>
<circle cx="455.05" cy="814.44" r="6.40" fill="#fb0000"/>
<circle cx="464.30" cy="803.17" r="6.40" fill="#fb0000"/>
<circle cx="473.55" cy="791.78" r="6.40" fill="#fb0000"/>
<circle cx="482.80" cy="778.97" r="6.40" fill="#fb0000"/>
<circle cx="492.05" cy="766.04" r="6.40" fill="#fb0000"/>
<circle cx="501.30" cy="753.58" r="6.40" fill="#fb0000"/>
<path d="M75.80 926.41L84.10 940.71L67.50 940.71zM87.36 926.40L95.66 940.70L79.06 940.70zM98.92 926.38L107.22 940.68L90.62 940.68zM110.49 926.37L118.79 940.67L102.19 940.67zM122.05 926.36L130.35 940.66L113.75 940.66zM133.61 926.35L141.91 940.65L125.31 940.65zM145.18 926.34L153.48 940.64L136.88 940.64zM156.74 926.32L165.04 940.62L148.44 940.62zM168.30 926.31L176.60 940.61L160.00 940.61zM179.86 926.30L188.16 940.60L171.56 940.60zM191.43 926.29L199.73 940.59L183.12 940.59zM202.99 925.64L211.29 939.94L194.69 939.94zM214.55 924.98L222.85 939.28L206.25 939.28zM226.11 924.09L234.41 938.39L217.81 938.39zM237.68 923.20L245.98 937.50L229.38 937.50zM249.24 922.31L257.54 936.61L240.94 936.61zM260.80 921.42L269.10 935.72L252.50 935.72zM272.36 920.54L280.66 934.84L264.06 934.84zM283.93 919.65L292.23 933.95L275.62 933.95zM295.49 918.76L303.79 933.06L287.19 933.06zM307.05 917.87L315.35 932.17L298.75 932.17zM318.61 915.85L326.91 930.15L310.31 930.15zM330.18 912.53L338.48 926.83L321.88 926.83zM341.74 907.90L350.04 922.20L333.44 922.20zM353.30 902.09L361.60 916.39L345.00 916.39zM364.86 894.14L373.16 908.44L356.56 908.44zM376.43 884.05L384.73 898.35L368.12 898.35zM387.99 875.75L396.29 890.05L379.69 890.05zM399.55 868.63L407.85 882.93L391.25 882.93zM411.11 859.14L419.41 873.44L402.81 873.44zM422.68 847.87L430.98 862.17L414.38 862.17zM434.24 833.63L442.54 847.93L425.94 847.93zM445.80 817.61L454.10 831.91L437.50 831.91zM457.36 796.85L465.66 811.15L449.06 811.15zM468.93 775.26L477.23 789.56L460.62 789.56zM480.49 753.55L488.79 767.85L472.19 767.85zM492.05 730.41L500.35 744.71L483.75 744.71zM503.61 706.69L511.91 720.99L495.31 720.99z" fill="#ff00ff"/>
<path d="M67.50 929.73L84.10 929.73L75.80 944.03zM76.75 929.71L93.35 929.71L85.05 944.01zM86.00 929.68L102.60 929.68L94.30 943.98zM95.25 929.66L111.85 929.66L103.55 943.96zM104.50 929.63L121.10 929.63L112.80 943.93zM113.75 929.61L130.35 929.61L122.05 943.91zM123.00 929.59L139.60 929.59L131.30 943.89zM132.25 929.56L148.85 929.56L140.55 943.86zM141.50 929.54L158.10 929.54L149.80 943.84zM150.75 929.52L167.35 929.52L159.05 943.82zM160.00 929.49L176.60 929.49L168.30 943.79zM169.25 929.47L185.85 929.47L177.55 943.77zM178.50 929.44L195.10 929.44L186.80 943.74zM187.75 929.42L204.35 929.42L196.05 943.72zM197.00 929.40L213.60 929.40L205.30 943.70zM206.25 929.37L222.85 929.37L214.55 943.67zM215.50 928.54L232.10 928.54L223.80 942.84zM224.75 927.89L241.35 927.89L233.05 942.19zM234.00 927.24L250.60 927.24L242.30 941.54zM243.25 926.11L259.85 926.11L251.55 940.41zM252.50 924.98L269.10 924.98L260.80 939.28zM261.75 923.80L278.35 923.80L270.05 938.10zM271.00 922.61L287.60 922.61L279.30 936.91zM280.25 920.83L296.85 920.83L288.55 935.13zM289.50 919.05L306.10 919.05L297.80 933.35zM298.75 916.09L315.35 916.09L307.05 930.39zM308.00 912.53L324.60 912.53L316.30 926.83zM317.25 908.37L333.85 908.37L325.55 922.67zM326.50 903.04L343.10 903.04L334.80 917.34zM335.75 897.10L352.35 897.10L344.05 911.40zM345.00 890.58L361.60 890.58L353.30 904.88zM354.25 882.87L370.85 882.87L362.55 897.17zM363.50 874.56L380.10 874.56L371.80 888.86zM372.75 865.66L389.35 865.66L381.05 879.96zM382.00 856.17L398.60 856.17L390.30 870.47zM391.25 845.50L407.85 845.50L399.55 859.80zM400.50 833.04L417.10 833.04L408.80 847.34zM409.75 819.63L426.35 819.63L418.05 833.93zM419.00 805.16L435.60 805.16L427.30 819.46zM428.25 789.97L444.85 789.97L436.55 804.27zM437.50 773.96L454.10 773.96L445.80 788.26zM446.75 756.52L463.35 756.52L455.05 770.82zM456.00 738.48L472.60 738.48L464.30 752.78zM465.25 720.80L481.85 720.80L473.55 735.10zM474.50 700.64L491.10 700.64L482.80 714.94zM483.75 680.23L500.35 680.23L492.05 694.53zM493.00 660.06L509.60 660.06L501.30 674.36z" fill="#0000ff"/>
</g>
<text transform="translate(52.23 941.23) scale(1.000 1)" font-size="21.00" font-weight="bold" fill="#000" stroke="#000" stroke-width="0.45">0</text>
<text transform="translate(40.55 881.91) scale(1.000 1)" font-size="21.00" font-weight="bold" fill="#000" stroke="#000" stroke-width="0.45">50</text>
<text transform="translate(28.87 822.59) scale(1.000 1)" font-size="21.00" font-weight="bold" fill="#000" stroke="#000" stroke-width="0.45">100</text>
<text transform="translate(28.87 763.27) scale(1.000 1)" font-size="21.00" font-weight="bold" fill="#000" stroke="#000" stroke-width="0.45">150</text>
<text transform="translate(28.87 703.95) scale(1.000 1)" font-size="21.00" font-weight="bold" fill="#000" stroke="#000" stroke-width="0.45">200</text>
<text transform="translate(28.87 644.63) scale(1.000 1)" font-size="21.00" font-weight="bold" fill="#000" stroke="#000" stroke-width="0.45">250</text>
<text transform="translate(70.28 969.74) scale(1.000 1)" font-size="21.00" font-weight="bold" fill="#000" stroke="#000" stroke-width="0.45">0</text>
<text transform="translate(116.14 969.95) scale(1.000 1)" font-size="21.00" font-weight="bold" fill="#000" stroke="#000" stroke-width="0.45">1</text>
<text transform="translate(162.82 969.95) scale(1.000 1)" font-size="21.00" font-weight="bold" fill="#000" stroke="#000" stroke-width="0.45">2</text>
<text transform="translate(209.15 969.71) scale(1.000 1)" font-size="21.00" font-weight="bold" fill="#000" stroke="#000" stroke-width="0.45">3</text>
<text transform="translate(255.16 969.95) scale(1.000 1)" font-size="21.00" font-weight="bold" fill="#000" stroke="#000" stroke-width="0.45">4</text>
<text transform="translate(301.48 969.74) scale(1.000 1)" font-size="21.00" font-weight="bold" fill="#000" stroke="#000" stroke-width="0.45">5</text>
<text transform="translate(347.76 969.74) scale(1.000 1)" font-size="21.00" font-weight="bold" fill="#000" stroke="#000" stroke-width="0.45">6</text>
<text transform="translate(394.02 969.95) scale(1.000 1)" font-size="21.00" font-weight="bold" fill="#000" stroke="#000" stroke-width="0.45">7</text>
<text transform="translate(440.25 969.74) scale(1.000 1)" font-size="21.00" font-weight="bold" fill="#000" stroke="#000" stroke-width="0.45">8</text>
<text transform="translate(486.54 969.74) scale(1.000 1)" font-size="21.00" font-weight="bold" fill="#000" stroke="#000" stroke-width="0.45">9</text>
<text transform="translate(209.51 987.60) scale(1.006 1)" font-size="21.00" font-weight="bold" fill="#000" stroke="#000" stroke-width="0.45">Voltage (V)</text>
<text transform="translate(269.43 1007.93) scale(0.981 1)" font-size="20.80" font-weight="bold" fill="#000" stroke="#000" stroke-width="0.45">(e)</text>
<text transform="translate(23.80 897.23) rotate(-90) scale(1.004 1)" font-size="21.40" font-weight="bold" fill="#000">Current density (mA/cm<tspan font-size="14.55" dy="-8.99">2</tspan><tspan dy="8.99">)</tspan></text>
<text transform="translate(113.68 617.00) scale(0.998 1)" font-size="19.00" font-weight="bold" fill="#000" stroke="#000" stroke-width="0.45">AZO(CF<tspan font-size="12.92" dy="4.75">x</tspan><tspan dy="-4.75"> treated)/NPB/AlQ/LiF/Al</tspan></text>
<text transform="translate(113.68 644.80) scale(1.003 1)" font-size="19.00" font-weight="bold" fill="#000" stroke="#000" stroke-width="0.45">AZO/WO<tspan font-size="12.92" dy="4.75">x</tspan><tspan dy="-4.75">(3 nm)/NPB/AlQ/LiF/Al</tspan></text>
<text transform="translate(113.68 672.30) scale(1.003 1)" font-size="19.00" font-weight="bold" fill="#000" stroke="#000" stroke-width="0.45">AZO/VO<tspan font-size="12.92" dy="4.75">x</tspan><tspan dy="-4.75">(3 nm)/NPB/AlQ/LiF/Al</tspan></text>
<text transform="translate(112.87 699.80) scale(1.005 1)" font-size="19.00" font-weight="bold" fill="#000" stroke="#000" stroke-width="0.45">ITO/NPB/AlQ/LiF/Al</text>
<circle cx="96.6" cy="612.9" r="6.3" fill="#fb0000"/>
<path d="M96.7 631.8L105 645.6L88.4 645.6z" fill="#ff00ff"/>
<path d="M88.4 664.4L105 664.4L96.7 678.2z" fill="#0000ff"/>
<rect x="90.8" y="690.7" width="11.8" height="11.5" fill="#0f7f0f"/>
</svg>
</body></html>
